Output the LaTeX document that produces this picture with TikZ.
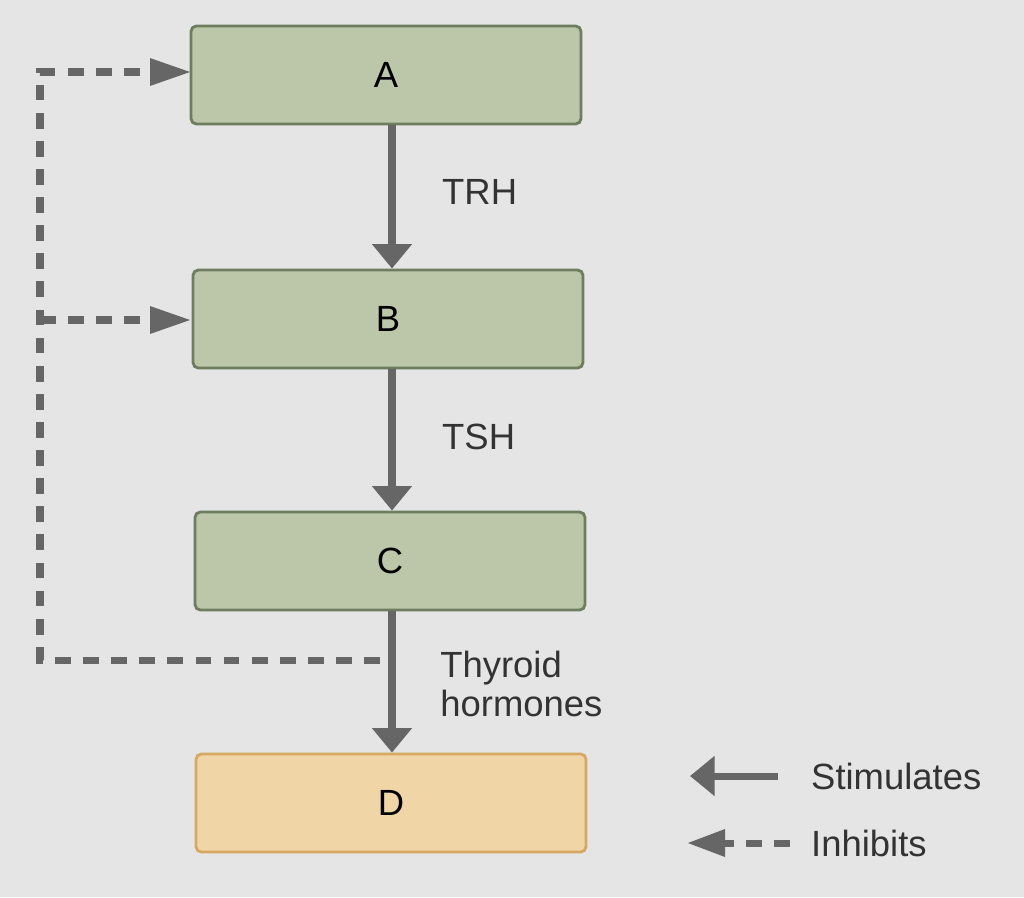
\documentclass[tikz,border=0pt]{standalone}
\usepackage{fontspec}
\setmainfont{Liberation Sans}
\usetikzlibrary{arrows.meta}
\definecolor{boxfill}{RGB}{188,198,168}
\definecolor{boxdraw}{RGB}{110,125,95}
\definecolor{dfill}{RGB}{240,214,166}
\definecolor{ddraw}{RGB}{215,168,100}
\begin{document}
\begin{tikzpicture}[x=0.02cm,y=-0.02cm,
  box/.style={draw=boxdraw, line width=1.6pt, fill=boxfill, rounded corners=3pt, minimum width=7.8cm, minimum height=1.96cm, inner sep=0pt, font=\huge},
  tbox/.style={box, draw=ddraw, fill=dfill},
  stim/.style={draw=black!60, line width=4pt, -{Triangle[length=14pt,width=22pt]}},
  inh/.style={draw=black!60, line width=4pt, dash pattern=on 9pt off 7pt},
  lbl/.style={font=\huge, text=black!80, anchor=west, align=left}]
\fill[black!10] (0,0) rectangle (1024,897);
\node[box] (A) at (386,75) {A};
\node[box] (B) at (388,319) {B};
\node[box] (C) at (390,561) {C};
\node[tbox] (D) at (391,803) {D};
\draw[stim] (A.south) ++(6,0) coordinate (a1) -- (a1 |- B.north);
\draw[stim] (B.south) ++(4,0) coordinate (b1) -- (b1 |- C.north);
\draw[stim] (C.south) ++(2,0) coordinate (c1) -- (c1 |- D.north);
\node[lbl] (t1) at (436,192) {TRH};
\node[lbl] (t2) at (436,437) {TSH};
\node[lbl, inner sep=0pt] (t3) at (440,684) {Thyroid\\[-3pt]hormones};
\coordinate (s) at (380,660);
\coordinate (lb) at (40,660);
\coordinate (lt) at (40,72);
\coordinate (lm) at (40,320);
\draw[inh] (s) -- (lb) -- (lt) -- (160,72);
\draw[inh] (lm) -- (160,320);
\fill[black!60] (150,58) -- (190,72) -- (150,86) -- cycle;
\fill[black!60] (150,306) -- (190,320) -- (150,334) -- cycle;
\coordinate (l1) at (778,776);
\coordinate (l2) at (690,776);
\draw[stim] (l1) -- (l2);
\node[lbl] (st) at (805,776) {Stimulates};
\draw[inh] (790,843) -- (715,843);
\fill[black!60] (725,829) -- (688,843) -- (725,857) -- cycle;
\node[lbl] (in) at (805,843) {Inhibits};
\end{tikzpicture}
\end{document}
